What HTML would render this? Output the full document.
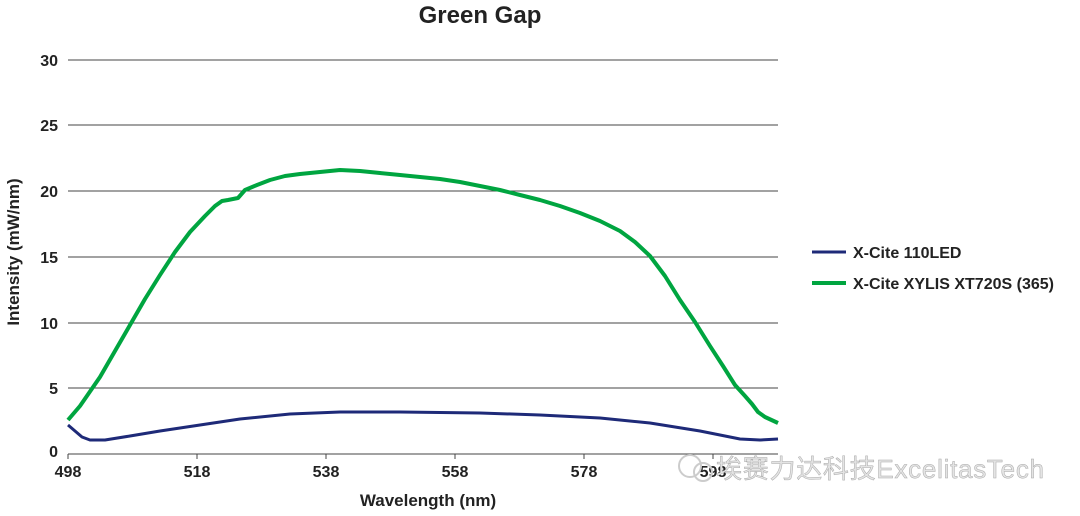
<!DOCTYPE html>
<html><head><meta charset="utf-8"><style>
body{margin:0;background:#fff;}
svg{display:block;font-family:"Liberation Sans",sans-serif;}
</style></head><body>
<svg width="1080" height="516" xmlns="http://www.w3.org/2000/svg">
<text x="480" y="23" text-anchor="middle" font-size="24" font-weight="bold" fill="#222">Green Gap</text>
<g stroke="#444" stroke-width="1">
<line x1="68" y1="60" x2="778" y2="60"/>
<line x1="68" y1="125" x2="778" y2="125"/>
<line x1="68" y1="191" x2="778" y2="191"/>
<line x1="68" y1="257" x2="778" y2="257"/>
<line x1="68" y1="323" x2="778" y2="323"/>
<line x1="68" y1="388" x2="778" y2="388"/>
<line x1="68" y1="454" x2="778" y2="454"/>
<line x1="68" y1="454" x2="68" y2="459"/>
<line x1="197" y1="454" x2="197" y2="459"/>
<line x1="326" y1="454" x2="326" y2="459"/>
<line x1="455" y1="454" x2="455" y2="459"/>
<line x1="584" y1="454" x2="584" y2="459"/>
<line x1="713" y1="454" x2="713" y2="459"/>
</g>
<g font-size="16" font-weight="bold" fill="#222" text-anchor="end">
<text x="58" y="66">30</text><text x="58" y="131">25</text><text x="58" y="197">20</text>
<text x="58" y="263">15</text><text x="58" y="329">10</text><text x="58" y="394">5</text><text x="58" y="457">0</text>
</g>
<g font-size="16" font-weight="bold" fill="#222" text-anchor="middle">
<text x="68" y="477">498</text><text x="197" y="477">518</text><text x="326" y="477">538</text>
<text x="455" y="477">558</text><text x="584" y="477">578</text><text x="713" y="477">598</text>
</g>
<text x="428" y="506" text-anchor="middle" font-size="17" font-weight="bold" fill="#222">Wavelength (nm)</text>
<text transform="translate(19,252) rotate(-90)" text-anchor="middle" font-size="17" font-weight="bold" fill="#222">Intensity (mW/nm)</text>
<polyline fill="none" stroke="#00a540" stroke-width="4" stroke-linejoin="round" points="68,420 80,406 100,377 115,351 130,325 145,299 160,275 175,252 190,232 205,216 215,206 222,201 228,200 238,198 245,190 257,185 270,180 285,176 300,174 320,172 340,170 360,171 380,173 400,175 420,177 440,179 460,182 480,186 500,190 520,195 540,200 560,206 580,213 600,221 620,231 635,242 650,256 665,276 680,300 695,322 710,346 723,366 735,385 745,396 752,404 758,412 765,417 778,423"/>
<polyline fill="none" stroke="#1e2a78" stroke-width="3" stroke-linejoin="round" points="68,425 75,431 82,437 90,440 105,440 130,436 160,431 200,425 240,419 290,414 340,412 400,412 480,413 540,415 600,418 650,423 700,431 740,439 760,440 778,439"/>
<line x1="812" y1="252" x2="846" y2="252" stroke="#1e2a78" stroke-width="3"/>
<line x1="812" y1="283" x2="846" y2="283" stroke="#00a540" stroke-width="4"/>
<g font-size="16" font-weight="bold" fill="#222">
<text x="853" y="258">X-Cite 110LED</text>
<text x="853" y="289">X-Cite XYLIS XT720S (365)</text>
</g>
<circle cx="690" cy="466" r="11" fill="none" stroke="#ccc" stroke-width="2"/>
<circle cx="703" cy="472" r="9" fill="none" stroke="#ccc" stroke-width="2"/>
<text x="716" y="478" font-size="26" fill="#e4e4e4" stroke="#aaa" stroke-width="0.5" textLength="328" font-family="'Liberation Sans','Noto Sans CJK SC',sans-serif">埃赛力达科技ExcelitasTech</text>
</svg>
</body></html>
